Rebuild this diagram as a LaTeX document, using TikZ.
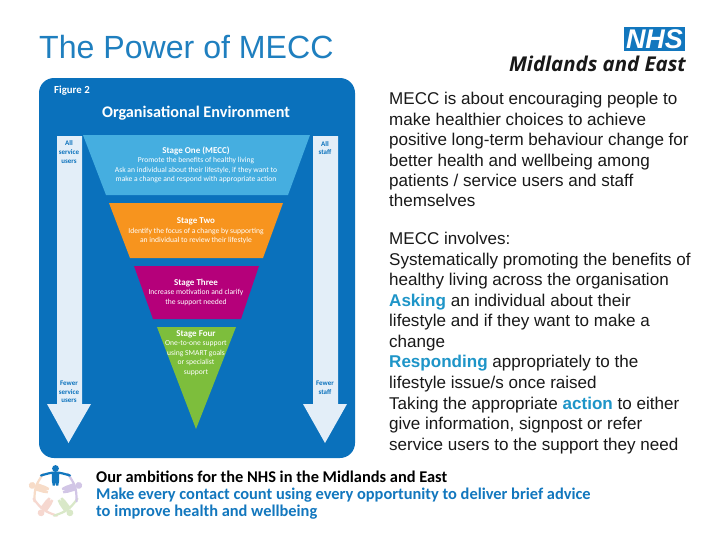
\documentclass[tikz,border=0pt]{standalone}
\usepackage{fontspec}
\setmainfont{Liberation Sans}
\newfontfamily\fig{Carlito}
\newfontfamily\logo{Open Sans}
\definecolor{panel}{HTML}{0A71BC}
\definecolor{pale}{HTML}{E3EEF8}
\definecolor{stA}{HTML}{45AEE0}
\definecolor{stB}{HTML}{F7941E}
\definecolor{stC}{HTML}{B5007A}
\definecolor{stD}{HTML}{7DBE3C}
\definecolor{titleblue}{HTML}{1F7FBF}
\definecolor{accent}{HTML}{1E95C8}
\definecolor{nhs}{HTML}{1277BE}
\definecolor{peach}{HTML}{F7DCC8}
\definecolor{lilac}{HTML}{D2C6E6}
\definecolor{rose}{HTML}{F6D8D0}
\definecolor{sage}{HTML}{D9E8C8}
\tikzset{
  x=1pt,y=-1pt,
  body/.style={anchor=base west,inner sep=0pt,font=\fontsize{17.05}{17.05}\selectfont,text=black!90},
  figtxt/.style={align=center,inner sep=0pt,text=white,font=\fig\fontsize{7.6}{9.5}\selectfont},
  side/.style={align=center,inner sep=0pt,text=panel,font=\fig\bfseries\fontsize{7}{8.6}\selectfont},
  foot/.style={anchor=base west,inner sep=0pt,font=\fig\bfseries\fontsize{16.4}{16.4}\selectfont},
}
\newcommand{\hl}[1]{\textcolor{accent}{\textbf{#1}}}
\begin{document}
\begin{tikzpicture}
\useasboundingbox (0,0) rectangle (728,546);
\fill[white] (0,0) rectangle (728,546);
\node[anchor=base west,inner sep=0pt,text=titleblue,font=\fontsize{32.1}{32.1}\selectfont] (title) at (39,58) {The Power of MECC};
% logo
\node[fill=nhs,minimum width=61pt,minimum height=24pt,inner sep=0pt] (nhsbox) at (654.5,39) {};
\node[text=white,inner sep=0pt,font=\bfseries\itshape\fontsize{27}{27}\selectfont] (nhstxt) at (654.5,39) {NHS};
\node[anchor=base east,inner sep=0pt,text=black!90,font=\logo\bfseries\itshape\fontsize{20.4}{20.4}\selectfont] (region) at (686,71) {Midlands and East};
% panel
\fill[panel,rounded corners=15pt] (39,78) rectangle (355,458);
\node[anchor=base west,inner sep=0pt,text=white,font=\fig\bfseries\fontsize{10.8}{10.8}\selectfont] (figlab) at (54,93) {Figure 2};
\node[inner sep=0pt,text=white,font=\fig\bfseries\fontsize{16.2}{16.2}\selectfont] (envlab) at (196,113) {Organisational Environment};
% side arrows
\fill[pale] (57,136) -- (82,136) -- (82,404) -- (91,404) -- (68.5,443) -- (47,404) -- (57,404) -- cycle;
\fill[pale] (313,136) -- (338,136) -- (338,404) -- (347,404) -- (325,443) -- (303,404) -- (313,404) -- cycle;
\node[side] (a1) at (69,152) {All\\service\\users};
\node[side] (a2) at (325,148) {All\\staff};
\node[side] (a3) at (69,392) {Fewer\\service\\users};
\node[side] (a4) at (325,388) {Fewer\\staff};
% funnel
\fill[stA] (83,135) -- (310,135) -- (288,195) -- (106,195) -- cycle;
\fill[stB] (109,203) -- (283,203) -- (263,258) -- (130,258) -- cycle;
\fill[stC] (134,266) -- (259,266) -- (241,319) -- (153,319) -- cycle;
\fill[stD] (157,327) -- (236,327) -- (196,429) -- cycle;
\node[figtxt] (s1) at (196,165) {{\bfseries\fontsize{9}{10}\selectfont Stage One (MECC)}\\Promote the benefits of healthy living\\Ask an individual about their lifestyle, if they want to\\make a change and respond with appropriate action};
\node[figtxt] (s2) at (196,231) {{\bfseries\fontsize{9}{10}\selectfont Stage Two}\\Identify the focus of a change by supporting\\an individual to review their lifestyle};
\node[figtxt] (s3) at (196,292) {{\bfseries\fontsize{9}{10}\selectfont Stage Three}\\Increase motivation and clarify\\the support needed};
\node[figtxt] (s4) at (196,353) {{\bfseries\fontsize{9}{10}\selectfont Stage Four}\\One-to-one support\\using SMART goals\\or specialist\\support};
% body text
\node[body] at (389,104) {MECC is about encouraging people to};
\node[body] at (389,125) {make healthier choices to achieve};
\node[body] at (389,145) {positive long-term behaviour change for};
\node[body] at (389,166) {better health and wellbeing among};
\node[body] at (389,186) {patients / service users and staff};
\node[body] at (389,206) {themselves};
\node[body] at (389,244) {MECC involves:};
\node[body] at (389,265) {Systematically promoting the benefits of};
\node[body] at (389,285) {healthy living across the organisation};
\node[body] at (389,306) {\hl{Asking} an individual about their};
\node[body] at (389,326) {lifestyle and if they want to make a};
\node[body] at (389,347) {change};
\node[body] at (389,367) {\hl{Responding} appropriately to the};
\node[body] at (389,388) {lifestyle issue/s once raised};
\node[body] at (389,409) {Taking the appropriate \hl{action} to either};
\node[body] at (389,429) {give information, signpost or refer};
\node[body] at (389,450) {service users to the support they need};
% footer
\node[foot,text=black] at (96,482) {Our ambitions for the NHS in the Midlands and East};
\node[foot,text=nhs] at (96,499) {Make every contact count using every opportunity to deliver brief advice};
\node[foot,text=nhs] at (96,516) {to improve health and wellbeing};
% ring of five figures
\foreach \ang/\col in {72/peach,144/rose,216/sage,288/lilac,0/nhs}{
  \begin{scope}[shift={(55.5,493)},rotate=\ang]
    \fill[\col] (0,-24.5) circle[radius=3.4];
    \draw[\col,line width=2.2pt,line cap=round] (-14.5,-17.5) .. controls (-8,-19.5) and (-4,-20.5) .. (0,-20.5) .. controls (4,-20.5) and (8,-19.5) .. (14.5,-17.5);
    \fill[\col] (-3.8,-21) -- (3.8,-21) -- (3.6,-12) -- (2.8,-7.5) -- (0.6,-7.5) -- (0,-11) -- (-0.6,-7.5) -- (-2.8,-7.5) -- (-3.6,-12) -- cycle;
  \end{scope}
}
\end{tikzpicture}
\end{document}
